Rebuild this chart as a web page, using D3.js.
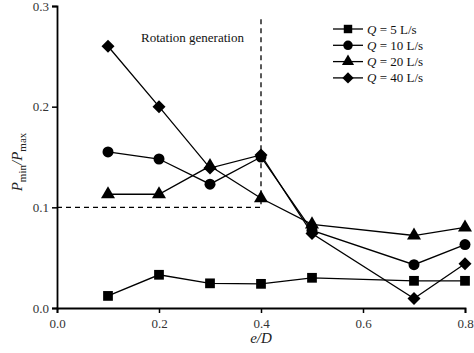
<!DOCTYPE html>
<meta charset="utf-8">
<script src="https://d3js.org/d3.v7.min.js"></script>
<body style="margin:0;background:#fff">
<script>
// data
const eD = [0.1, 0.2, 0.3, 0.4, 0.5, 0.7, 0.8];
const q5 = [0.012, 0.033, 0.0245, 0.024, 0.030, 0.027, 0.027];
const q10 = [0.155, 0.148, 0.123, 0.150, 0.077, 0.043, 0.063];
const q20 = [0.113, 0.113, 0.141, 0.109, 0.083, 0.072, 0.080];
const q40 = [0.260, 0.200, 0.139, 0.152, 0.074, 0.0095, 0.044];
const seriesNames = ["Q = 5 L/s", "Q = 10 L/s", "Q = 20 L/s", "Q = 40 L/s"];
const xTicks = [0.0, 0.2, 0.4, 0.6, 0.8];
const yTicks = [0.0, 0.1, 0.2, 0.3];

const W = 474, H = 353;
const font = "'Liberation Serif', serif";

const svg = d3.select("body").append("svg")
  .attr("width", W).attr("height", H)
  .style("font-family", font);

const x = d3.scaleLinear().domain([0, 0.8]).range([57, 465]);
const y = d3.scaleLinear().domain([0, 0.3]).range([308, 6]);

// reference dashed lines
svg.append("path")
  .attr("d", `M${x(0)},${y(0.1)}H${x(0.4)}V${y(0.288)}`)
  .attr("fill", "none").attr("stroke", "#000")
  .attr("stroke-width", 1.3).attr("stroke-dasharray", "5,4");

svg.append("text").attr("x", 141).attr("y", 42)
  .style("font-family", font).attr("font-size", 13).attr("fill", "#111").text("Rotation generation");

// axes
const xAxis = svg.append("g").attr("transform", `translate(0,${y(0)})`)
  .call(d3.axisBottom(x).tickValues(xTicks).tickFormat(d3.format(".1f")).tickSizeOuter(0).tickSize(5));
const yAxis = svg.append("g").attr("transform", `translate(${x(0)},0)`)
  .call(d3.axisLeft(y).tickValues(yTicks).tickFormat(d3.format(".1f")).tickSizeOuter(0).tickSize(5));
[xAxis, yAxis].forEach(a => {
  a.attr("font-family", null).style("font-family", font).attr("font-size", 13);
  a.select(".domain").attr("stroke-width", 1.8);
  a.selectAll(".tick line").attr("stroke-width", 1.5);
  a.selectAll("text").attr("fill", "#333");
});
xAxis.selectAll("text").attr("dy", "0.95em");

// axis titles
svg.append("text").attr("x", x(0.4)).attr("y", 343)
  .attr("text-anchor", "middle").attr("font-size", 15).attr("font-style", "italic")
  .attr("fill", "#222").text("e/D");

const yl = svg.append("text").attr("transform", "translate(22,162) rotate(-90)")
  .attr("text-anchor", "middle").attr("font-size", 15).attr("fill", "#222");
yl.append("tspan").attr("font-style", "italic").text("P");
yl.append("tspan").attr("font-size", 11).attr("dy", 4).text("min");
yl.append("tspan").attr("dy", -4).attr("font-style", "italic").text("/P");
yl.append("tspan").attr("font-size", 11).attr("dy", 4).text("max");

// series
const series = [
  {vals: q5, sym: d3.symbolSquare, size: 95, rot: 0},
  {vals: q10, sym: d3.symbolCircle, size: 95, rot: 0},
  {vals: q20, sym: d3.symbolTriangle, size: 85, rot: 0},
  {vals: q40, sym: d3.symbolSquare, size: 85, rot: 45}
];
const line = d3.line().x((d, i) => x(eD[i])).y(d => y(d));

series.forEach(s => {
  svg.append("path").attr("d", line(s.vals))
    .attr("fill", "none").attr("stroke", "#000").attr("stroke-width", 1.3);
  svg.selectAll(null).data(s.vals).enter().append("path")
    .attr("transform", (d, i) => `translate(${x(eD[i])},${y(d)}) rotate(${s.rot})`)
    .attr("d", d3.symbol(s.sym, s.size))
    .attr("fill", "#000");
});

// legend
const lg = svg.append("g");
series.forEach((s, i) => {
  const yy = 29 + i * 16.3;
  lg.append("line").attr("x1", 333).attr("x2", 363).attr("y1", yy).attr("y2", yy)
    .attr("stroke", "#000").attr("stroke-width", 1.3);
  lg.append("path").attr("transform", `translate(348,${yy}) rotate(${s.rot})`)
    .attr("d", d3.symbol(s.sym, s.size * 0.75)).attr("fill", "#000");
  const t = lg.append("text").attr("x", 367).attr("y", yy + 4.5).attr("font-size", 13).attr("fill", "#111");
  const parts = seriesNames[i].split(" = ");
  t.append("tspan").attr("font-style", "italic").text(parts[0]);
  t.append("tspan").text(" = " + parts[1]);
});
</script>
</body>
